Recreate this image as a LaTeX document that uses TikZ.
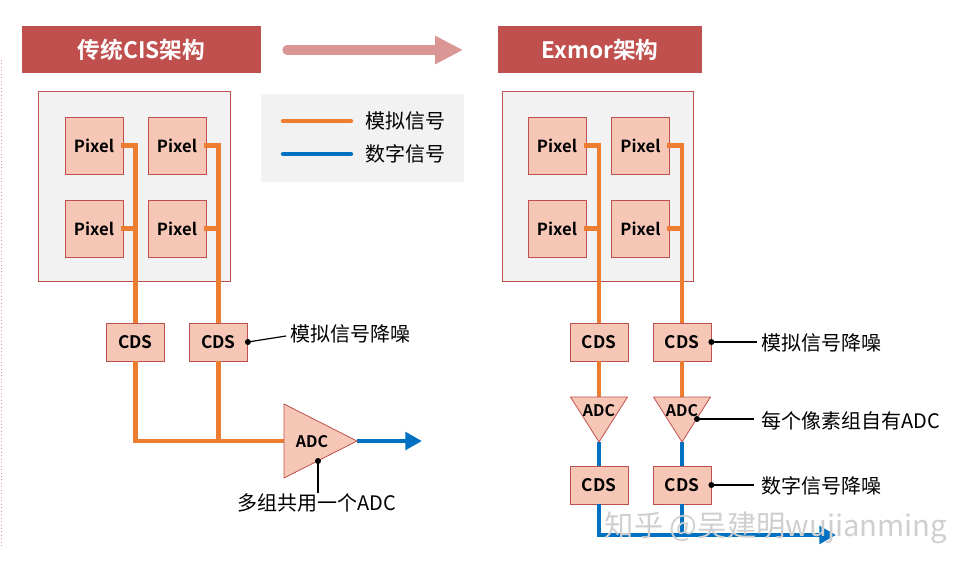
\documentclass[tikz,border=0pt]{standalone}
\usepackage{fontspec}
\setmainfont{Noto Sans CJK SC}[BoldFont={Noto Sans CJK SC Bold}]
\usetikzlibrary{arrows.meta}
\definecolor{tred}{HTML}{C0504D}
\definecolor{tarrow}{HTML}{D99694}
\definecolor{pxfill}{HTML}{F6C7B6}
\definecolor{pxdraw}{HTML}{C0504D}
\definecolor{panel}{HTML}{F2F2F2}
\definecolor{worange}{HTML}{ED7D31}
\definecolor{wblue}{HTML}{0070C0}
\begin{document}
\begin{tikzpicture}[x=0.75pt,y=-0.75pt,
  titlebox/.style={fill=tred, text=white, font=\bfseries\fontsize{17}{20}\selectfont, minimum height=35.25pt, inner sep=0pt},
  panelbox/.style={fill=panel, draw=pxdraw, line width=0.6pt, inner sep=0pt},
  pixbox/.style={fill=pxfill, draw=pxdraw, line width=0.6pt, minimum width=43.5pt, minimum height=42.75pt, inner sep=0pt, font=\bfseries\fontsize{12.5}{14}\selectfont},
  cdsbox/.style={pixbox, minimum height=28.5pt, font=\bfseries\fontsize{13}{15}\selectfont},
  tri/.style={fill=pxfill, draw=pxdraw, line width=0.6pt},
  adctext/.style={font=\bfseries\fontsize{12}{14}\selectfont, inner sep=0pt},
  awire/.style={worange, line width=3.5pt},
  dwire/.style={wblue, line width=3.5pt},
  callout/.style={black, line width=0.9pt},
  note/.style={font=\fontsize{15}{18}\selectfont, inner sep=0pt},
  dotc/.style={circle, fill=black, inner sep=0pt, minimum size=4.5pt},
  bigarrow/.style={tarrow, line width=7pt, line cap=round, -{Triangle[length=21pt,width=20pt]}},
  outarrow/.style={dwire, -{Triangle[length=12.5pt,width=13pt]}}
]
\useasboundingbox (0,0) rectangle (968,572);

% left dotted rule
\draw[tarrow, dotted, line width=0.6pt] (1.5,60) -- (1.5,547);

% titles
\node[titlebox, minimum width=179.25pt] (tL) at (141.5,49.5) {传统CIS架构};
\node[titlebox, minimum width=153pt] (tR) at (600,49.5) {Exmor架构};
\coordinate (bA) at (287,50);
\coordinate (bB) at (463,50);
\draw[bigarrow] (bA) -- (bB);

% legend
\node[panelbox, draw=none, minimum width=152.25pt, minimum height=66pt] (leg) at (362.5,138) {};
\coordinate (la1) at (283,121); \coordinate (la2) at (351,121);
\coordinate (ld1) at (283,154); \coordinate (ld2) at (351,154);
\draw[awire, line width=3.2pt, line cap=round] (la1) -- (la2);
\draw[dwire, line width=3.2pt, line cap=round] (ld1) -- (ld2);
\node[note, anchor=west] (lt1) at (365,121) {模拟信号};
\node[note, anchor=west] (lt2) at (365,154) {数字信号};

% ===== left: traditional CIS =====
\node[panelbox, minimum width=144pt, minimum height=142.5pt] (panL) at (134,186) {};
\node[pixbox] (p11) at (94,145.5) {Pixel};
\node[pixbox] (p12) at (177,145.5) {Pixel};
\node[pixbox] (p21) at (94,228.5) {Pixel};
\node[pixbox] (p22) at (177,228.5) {Pixel};
\node[cdsbox] (c1) at (135.5,342) {CDS};
\node[cdsbox] (c2) at (218.5,342) {CDS};

\coordinate (adcin) at (284,441);
\coordinate (adcout) at (357,441);
\coordinate (outL) at (422,441);

\draw[awire] ([xshift=-2pt]p11.east) -| (c1.north);
\draw[awire] ([xshift=-2pt]p21.east) -- (p21.east -| c1.north);
\draw[awire] ([xshift=-2pt]p12.east) -| (c2.north);
\draw[awire] ([xshift=-2pt]p22.east) -- (p22.east -| c2.north);
\draw[awire] (c1.south) |- (adcin);
\draw[awire] (c2.south) -- (c2.south |- adcin);
\draw[outarrow] (adcout) -- (outL);

\draw[tri] (284,404) -- (adcout) -- (284,478) -- cycle;
\node[adctext] (adcL) at (312,441.5) {ADC};

% callouts left
\node[dotc] (dL1) at (c2.east) {};
\node[note, anchor=west] (nL1) at (290,334) {模拟信号降噪};
\draw[callout] (dL1.center) -- ([xshift=-3pt,yshift=-1.5pt]nL1.west);
\node[dotc] (dL2) at (318,461) {};
\node[note] (nL2) at (317,503) {多组共用一个ADC};
\draw[callout] (dL2.center) -- (dL2.center |- nL2.north);

% ===== right: Exmor =====
\node[panelbox, minimum width=143.25pt, minimum height=142.5pt] (panR) at (597.5,186) {};
\node[pixbox] (q11) at (557,145.5) {Pixel};
\node[pixbox] (q12) at (640.5,145.5) {Pixel};
\node[pixbox] (q21) at (557,228.5) {Pixel};
\node[pixbox] (q22) at (640.5,228.5) {Pixel};
\node[cdsbox] (r1) at (599,342) {CDS};
\node[cdsbox] (r2) at (682,342) {CDS};
\node[cdsbox] (s1) at (599,485) {CDS};
\node[cdsbox] (s2) at (682,485) {CDS};

\coordinate (at1) at (599,397); \coordinate (ab1) at (599,442);
\coordinate (at2) at (682,397); \coordinate (ab2) at (682,442);
\coordinate (outR) at (836,535);

\draw[awire] ([xshift=-2pt]q11.east) -| (r1.north);
\draw[awire] ([xshift=-2pt]q21.east) -- (q21.east -| r1.north);
\draw[awire] ([xshift=-2pt]q12.east) -| (r2.north);
\draw[awire] ([xshift=-2pt]q22.east) -- (q22.east -| r2.north);
\draw[awire] (r1.south) -- (at1);
\draw[awire] (r2.south) -- (at2);
\draw[dwire] (ab1) -- (s1.north);
\draw[dwire] (ab2) -- (s2.north);
\draw[outarrow] (s1.south) |- (outR);
\draw[dwire] (s2.south) -- (s2.south |- outR);

\draw[tri] (570.5,397) -- (627.5,397) -- (ab1) -- cycle;
\draw[tri] (653.5,397) -- (710.5,397) -- (ab2) -- cycle;
\node[adctext] (a1) at (599,411) {ADC};
\node[adctext] (a2) at (682,411) {ADC};

% callouts right
\node[dotc] (dR1) at (r2.east) {};
\node[note, anchor=west] (nR1) at (761,343) {模拟信号降噪};
\draw[callout] (dR1.center) -- ([xshift=-3pt]nR1.west |- dR1.center);
\node[dotc] (dR2) at (697,419) {};
\node[note, anchor=west] (nR2) at (761,421) {每个像素组自有ADC};
\draw[callout] (dR2.center) -- ([xshift=-5pt]nR2.west |- dR2.center);
\node[dotc] (dR3) at (s2.east) {};
\node[note, anchor=west] (nR3) at (761,486) {数字信号降噪};
\draw[callout] (dR3.center) -- ([xshift=-5pt]nR3.west |- dR3.center);

% watermark
\node[text=gray!38, font=\fontsize{22}{26}\selectfont, inner sep=0pt] (wm) at (776,528) {知乎 @吴建明wujianming};
\end{tikzpicture}
\end{document}
